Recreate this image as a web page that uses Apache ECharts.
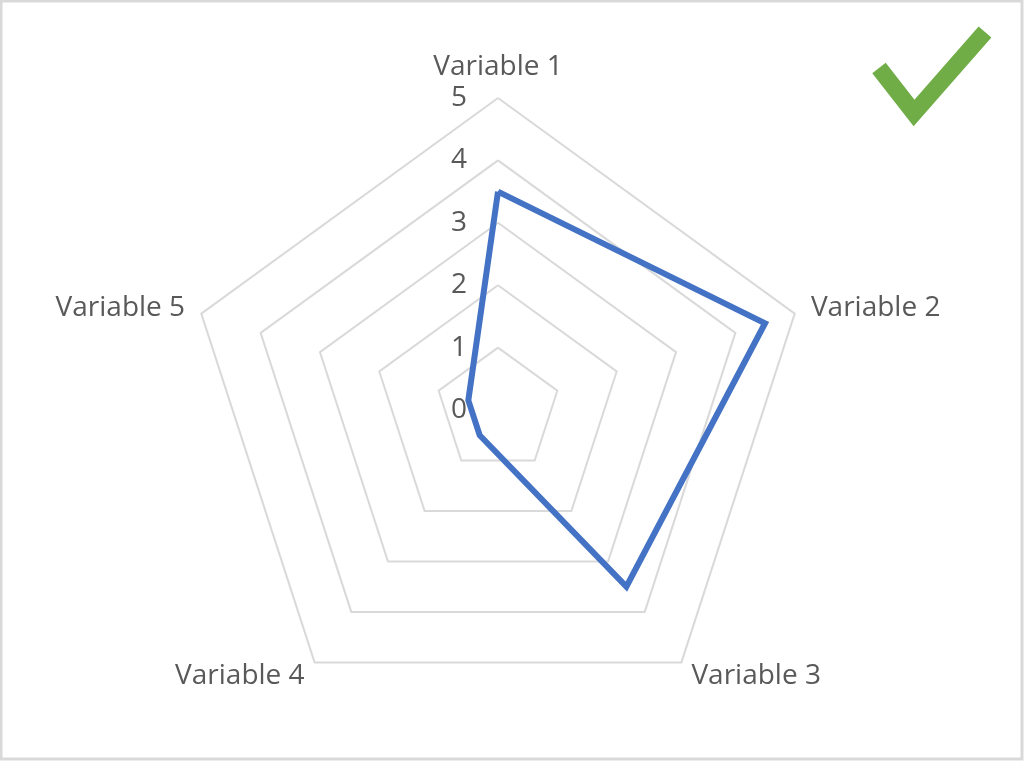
<!DOCTYPE html>
<html><head><meta charset="utf-8">
<script src="https://cdn.jsdelivr.net/npm/echarts@6/dist/echarts.min.js"></script>
<style>html,body{margin:0;padding:0;background:#fff}#c{width:1024px;height:761px}</style>
</head><body><div id="c"></div>
<script>
const indicators = ['Variable 1','Variable 2','Variable 3','Variable 4','Variable 5'];
const values = [3.5, 4.5, 3.5, 0.5, 0.5];
const axisMax = 5;

// ECharts lays indicators counter-clockwise; reorder so they run clockwise like the original
const order = [0, 4, 3, 2, 1];

const chart = echarts.init(document.getElementById('c'), null, {renderer:'canvas'});
const font = 'Open Sans';
chart.setOption({
  animation:false,
  backgroundColor:'#fff',
  graphic:[
    {type:'rect', shape:{x:1,y:1,width:1021,height:758}, style:{fill:'none', stroke:'#d9d9d9', lineWidth:3}},
    {type:'polyline', shape:{points:[[879,68],[914,113],[985,32]]}, style:{stroke:'#70ad47', lineWidth:17, fill:'none', lineJoin:'miter', lineCap:'butt'}}
  ],
  radar:{
    center:[498,410], radius:312, startAngle:90, shape:'polygon', splitNumber:5,
    nameGap:17,
    axisName:{color:'#595959', fontSize:28, fontFamily:font},
    axisLine:{show:false}, axisTick:{show:false},
    splitLine:{lineStyle:{color:'#d9d9d9', width:2}},
    splitArea:{show:false},
    axisLabel:{show:false},
    indicator: order.map(i=> i===0
      ? {name:indicators[i], min:0, max:axisMax, axisLabel:{show:true, color:'#595959', fontSize:28, fontFamily:font, margin:31}}
      : {name:indicators[i], min:0, max:axisMax})
  },
  series:[{
    type:'radar', symbol:'none',
    lineStyle:{color:'#4472c4', width:6, join:'miter'},
    data:[{value:order.map(i=>values[i])}]
  }]
});
</script></body></html>
